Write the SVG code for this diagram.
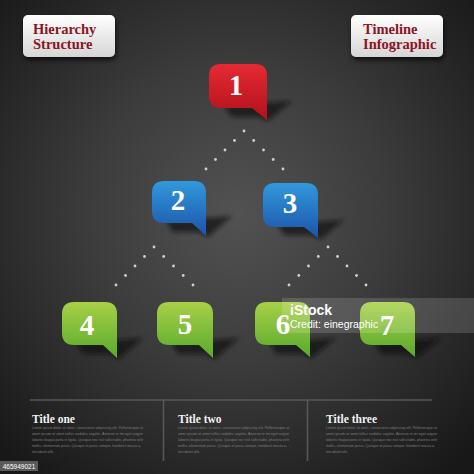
<svg xmlns="http://www.w3.org/2000/svg" width="474" height="474" viewBox="0 0 474 474">
<defs>
<radialGradient id="bg" cx="0.5" cy="0.45" r="0.7">
<stop offset="0" stop-color="#525252"/>
<stop offset="0.45" stop-color="#3c3c3c"/>
<stop offset="1" stop-color="#181818"/>
</radialGradient>
<linearGradient id="lbl" x1="0" y1="0" x2="0" y2="1">
<stop offset="0" stop-color="#ffffff"/>
<stop offset="1" stop-color="#d6d6d6"/>
</linearGradient>
<linearGradient id="red" x1="0" y1="0" x2="0" y2="1">
<stop offset="0" stop-color="#e62a33"/>
<stop offset="1" stop-color="#b0111b"/>
</linearGradient>
<linearGradient id="blue" x1="0" y1="0" x2="0" y2="1">
<stop offset="0" stop-color="#3199dc"/>
<stop offset="1" stop-color="#1c53a8"/>
</linearGradient>
<linearGradient id="green" x1="0" y1="0" x2="0" y2="1">
<stop offset="0" stop-color="#a8d048"/>
<stop offset="1" stop-color="#58aa2c"/>
</linearGradient>
<filter id="blur" x="-30%" y="-50%" width="160%" height="200%">
<feGaussianBlur stdDeviation="2.2"/>
</filter>
<filter id="ds" x="-20%" y="-30%" width="140%" height="170%">
<feDropShadow dx="1" dy="3" stdDeviation="2.5" flood-color="#000" flood-opacity="0.7"/>
</filter>
</defs>
<style>
.lt{font-family:"Liberation Serif",serif;font-weight:bold;font-size:14.5px;fill:#8a1525}
.num{font-family:"Liberation Serif",serif;font-weight:bold;font-size:29px;fill:#fff;text-anchor:middle}
.sh{fill:#0e0e0e;opacity:0.65;filter:url(#blur)}
.dot{fill:#cfcfcf}
.ttl{font-family:"Liberation Serif",serif;font-weight:bold;font-size:11.5px;fill:#f2f2f2}
.body{font-family:"Liberation Sans",sans-serif;font-size:4.4px;fill:#7e7e7e}
.rule{stroke:#575757;stroke-width:1.6;fill:none}
</style>
<rect width="474" height="474" fill="url(#bg)"/>

<g id="label-hierarchy">
<rect x="23" y="15" width="92" height="42" rx="5" fill="url(#lbl)" filter="url(#ds)"/>
<text class="lt" x="33" y="34">Hierarchy</text>
<text class="lt" x="33" y="49">Structure</text>
</g>
<g id="label-timeline">
<rect x="351" y="15" width="92" height="42" rx="5" fill="url(#lbl)" filter="url(#ds)"/>
<text class="lt" x="363" y="34">Timeline</text>
<text class="lt" x="363" y="49">Infographic</text>
</g>

<g id="connectors">
<circle class="dot" cx="244" cy="131" r="1.4"/>
<circle class="dot" cx="234.5" cy="140.5" r="1.4"/>
<circle class="dot" cx="225" cy="150" r="1.4"/>
<circle class="dot" cx="215.5" cy="159.5" r="1.4"/>
<circle class="dot" cx="206" cy="169" r="1.4"/>
<circle class="dot" cx="253.7" cy="140.5" r="1.4"/>
<circle class="dot" cx="263.5" cy="150" r="1.4"/>
<circle class="dot" cx="273.2" cy="159.5" r="1.4"/>
<circle class="dot" cx="283" cy="169" r="1.4"/>

<circle class="dot" cx="154" cy="247" r="1.4"/>
<circle class="dot" cx="144.5" cy="256.5" r="1.4"/>
<circle class="dot" cx="135" cy="266" r="1.4"/>
<circle class="dot" cx="125.5" cy="275.5" r="1.4"/>
<circle class="dot" cx="116" cy="285" r="1.4"/>
<circle class="dot" cx="163.7" cy="256.5" r="1.4"/>
<circle class="dot" cx="173.5" cy="266" r="1.4"/>
<circle class="dot" cx="183.2" cy="275.5" r="1.4"/>
<circle class="dot" cx="193" cy="285" r="1.4"/>

<circle class="dot" cx="328" cy="247" r="1.4"/>
<circle class="dot" cx="318.3" cy="256.5" r="1.4"/>
<circle class="dot" cx="308.5" cy="266" r="1.4"/>
<circle class="dot" cx="298.8" cy="275.5" r="1.4"/>
<circle class="dot" cx="289" cy="285" r="1.4"/>
<circle class="dot" cx="337.5" cy="256.5" r="1.4"/>
<circle class="dot" cx="347" cy="266" r="1.4"/>
<circle class="dot" cx="356.5" cy="275.5" r="1.4"/>
<circle class="dot" cx="366" cy="285" r="1.4"/>
</g>

<g id="node-1">
<path class="sh" d="M224,106 L292,101 L268,121 L258,117 L232,117 Z"/>
<path d="M221,64 H255 Q267,64 267,76 V120 L252,108 H221 Q209,108 209,96 V76 Q209,64 221,64 Z" fill="url(#red)"/>
<text class="num" x="236" y="95">1</text>
</g>
<g id="node-2">
<path class="sh" d="M167,221 L232,216 L208,237 L198,232 L172,232 Z"/>
<path d="M164,181 H194 Q206,181 206,193 V236 L192,223 H164 Q152,223 152,211 V193 Q152,181 164,181 Z" fill="url(#blue)"/>
<text class="num" x="178" y="210">2</text>
</g>
<g id="node-3">
<path class="sh" d="M278,225 L344,220 L321,239 L311,235 L284,235 Z"/>
<path d="M275,183 H306 Q318,183 318,195 V238 L304,227 H275 Q263,227 263,215 V195 Q263,183 275,183 Z" fill="url(#blue)"/>
<text class="num" x="290" y="213">3</text>
</g>
<g id="node-4">
<path class="sh" d="M77,343 L143,338 L119,359 L109,354 L83,354 Z"/>
<path d="M74,302 H105 Q117,302 117,314 V358 L103,345 H74 Q62,345 62,333 V314 Q62,302 74,302 Z" fill="url(#green)"/>
<text class="num" x="87" y="335">4</text>
</g>
<g id="node-5">
<path class="sh" d="M172,343 L239,338 L215,359 L205,354 L178,354 Z"/>
<path d="M169,302 H201 Q213,302 213,314 V358 L199,345 H169 Q157,345 157,333 V314 Q157,302 169,302 Z" fill="url(#green)"/>
<text class="num" x="185" y="334">5</text>
</g>
<g id="node-6">
<path class="sh" d="M270,343 L336,338 L312,358 L302,354 L276,354 Z"/>
<path d="M267,302 H298 Q310,302 310,314 V357 L296,345 H267 Q255,345 255,333 V314 Q255,302 267,302 Z" fill="url(#green)"/>
<text class="num" x="283" y="334">6</text>
</g>
<g id="node-7">
<path class="sh" d="M375,343 L441,338 L417,358 L407,354 L381,354 Z"/>
<path d="M372,302 H403 Q415,302 415,314 V357 L401,345 H372 Q360,345 360,333 V314 Q360,302 372,302 Z" fill="url(#green)"/>
<text class="num" x="387" y="335">7</text>
</g>

<g id="footer">
<line class="rule" x1="30" y1="400" x2="432" y2="400"/>
<line class="rule" x1="163.5" y1="400" x2="163.5" y2="461"/>
<line class="rule" x1="307.5" y1="400" x2="307.5" y2="461"/>
<text class="ttl" x="32" y="423">Title one</text>
<text class="ttl" x="178" y="423">Title two</text>
<text class="ttl" x="326" y="423">Title three</text>
<g class="body">
<text x="32" y="429" textLength="111" lengthAdjust="spacingAndGlyphs">Lorem ipsum dolor sit amet, consectetur adipiscing elit. Pellentesque at</text>
<text x="32" y="435" textLength="111" lengthAdjust="spacingAndGlyphs">amet ipsum ut amet tellus sodales sagittis. Aenean in mi eget augue</text>
<text x="32" y="441" textLength="111" lengthAdjust="spacingAndGlyphs">lobortis feugiat porta in ligula. Quisque nec nisl sollicitudin, pharetra velit</text>
<text x="32" y="447" textLength="109" lengthAdjust="spacingAndGlyphs">mollis, elementum purus. Quisque et purus semper, hendrerit massa a,</text>
<text x="32" y="453" textLength="22" lengthAdjust="spacingAndGlyphs">tincidunt elit.</text>
<text x="178" y="429" textLength="111" lengthAdjust="spacingAndGlyphs">Lorem ipsum dolor sit amet, consectetur adipiscing elit. Pellentesque at</text>
<text x="178" y="435" textLength="111" lengthAdjust="spacingAndGlyphs">amet ipsum ut amet tellus sodales sagittis. Aenean in mi eget augue</text>
<text x="178" y="441" textLength="111" lengthAdjust="spacingAndGlyphs">lobortis feugiat porta in ligula. Quisque nec nisl sollicitudin, pharetra velit</text>
<text x="178" y="447" textLength="109" lengthAdjust="spacingAndGlyphs">mollis, elementum purus. Quisque et purus semper, hendrerit massa a,</text>
<text x="178" y="453" textLength="22" lengthAdjust="spacingAndGlyphs">tincidunt elit.</text>
<text x="326" y="429" textLength="111" lengthAdjust="spacingAndGlyphs">Lorem ipsum dolor sit amet, consectetur adipiscing elit. Pellentesque at</text>
<text x="326" y="435" textLength="111" lengthAdjust="spacingAndGlyphs">amet ipsum ut amet tellus sodales sagittis. Aenean in mi eget augue</text>
<text x="326" y="441" textLength="111" lengthAdjust="spacingAndGlyphs">lobortis feugiat porta in ligula. Quisque nec nisl sollicitudin, pharetra velit</text>
<text x="326" y="447" textLength="109" lengthAdjust="spacingAndGlyphs">mollis, elementum purus. Quisque et purus semper, hendrerit massa a,</text>
<text x="326" y="453" textLength="22" lengthAdjust="spacingAndGlyphs">tincidunt elit.</text>
</g>
</g>

<g id="watermark">
<rect x="282" y="298" width="192" height="35" fill="#ffffff" opacity="0.15"/>
<text x="290" y="315" font-family="Liberation Sans, sans-serif" font-weight="bold" font-size="14" fill="#ffffff">iStock</text>
<text x="290" y="328" font-family="Liberation Sans, sans-serif" font-size="10.5" fill="#ffffff">Credit: einegraphic</text>
</g>

<g id="id-tag">
<rect x="0" y="461" width="38" height="10" fill="#5a5a5a"/>
<text x="19" y="468.5" font-family="Liberation Sans, sans-serif" font-size="6.5" fill="#ffffff" text-anchor="middle">465949021</text>
</g>
</svg>
